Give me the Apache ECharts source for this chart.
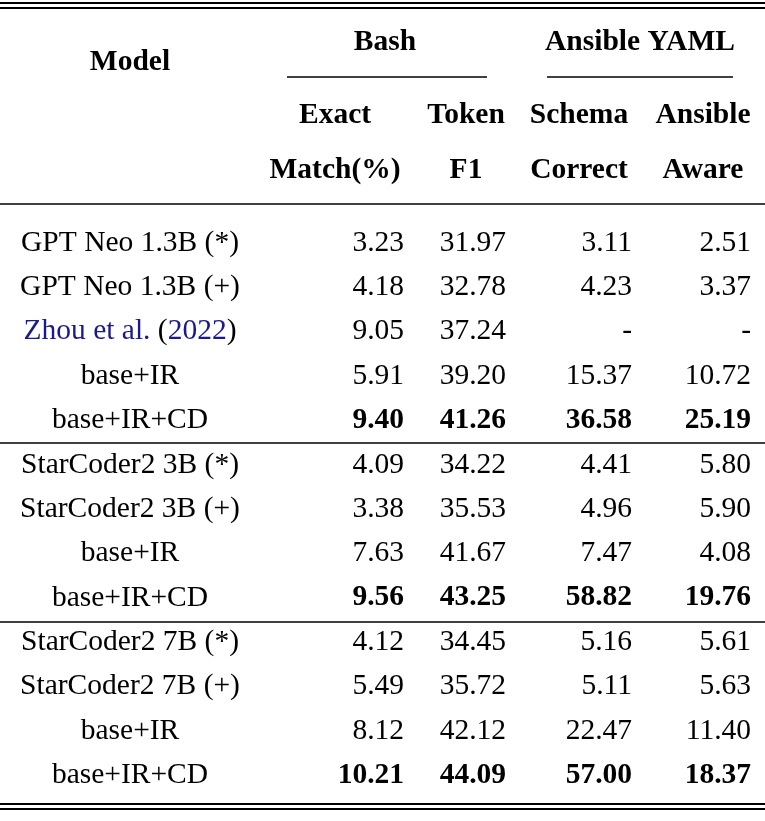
<!DOCTYPE html><html><head><meta charset="utf-8"><script src="https://cdn.jsdelivr.net/npm/echarts@6/dist/echarts.min.js"></script>
<style>html,body{margin:0;background:#fff}#c{width:765px;height:821px}</style></head><body><div id="c"></div><script>
const models=["GPT Neo 1.3B (*)","GPT Neo 1.3B (+)","{b|Zhou et al.} ({b|2022})","base+IR","base+IR+CD","StarCoder2 3B (*)","StarCoder2 3B (+)","base+IR","base+IR+CD","StarCoder2 7B (*)","StarCoder2 7B (+)","base+IR","base+IR+CD"];
const exactMatch=["3.23","4.18","9.05","5.91","9.40","4.09","3.38","7.63","9.56","4.12","5.49","8.12","10.21"];
const tokenF1=["31.97","32.78","37.24","39.20","41.26","34.22","35.53","41.67","43.25","34.45","35.72","42.12","44.09"];
const schemaCorrect=["3.11","4.23","-","15.37","36.58","4.41","4.96","7.47","58.82","5.16","5.11","22.47","57.00"];
const ansibleAware=["2.51","3.37","-","10.72","25.19","5.80","5.90","4.08","19.76","5.61","5.63","11.40","18.37"];
const boldRows=[4,8,12];
const headTop=["Exact","Token","Schema","Ansible"];
const headBot=["Match(%)","F1","Correct","Aware"];
// layout
const colX=[130,404,506,632,751];
const subX=[335,466,579,703];
const rowY0=243,rowStep=44.35;
const FS=29.5;
const F='"Liberation Serif","DejaVu Serif",serif';
const cells=[];
const cols=[exactMatch,tokenF1,schemaCorrect,ansibleAware];
models.forEach((m,r)=>{cells.push([0,r,m]);cols.forEach((a,c)=>cells.push([c+1,r,a[r]]));});
const heads=[];
heads.push([130,62,"Model"]);heads.push([385,42,"Bash"]);heads.push([640,42,"Ansible YAML"]);
headTop.forEach((t,i)=>heads.push([subX[i],115,t]));headBot.forEach((t,i)=>heads.push([subX[i],170,t]));
const lines=[[0,3,765,2],[0,8,765,2],[287,77,487,1.5],[547,77,733,1.5],[0,204,765,1.5],[0,443,765,1.5],[0,622,765,1.5],[0,804,765,2],[0,809,765,2]];
const ch=echarts.init(document.getElementById('c'));
ch.setOption({animation:false,grid:{left:0,right:0,top:0,bottom:0},
xAxis:{type:'value',min:0,max:765,show:false},yAxis:{type:'value',min:0,max:821,inverse:true,show:false},
series:[
{type:'custom',data:cells,renderItem:(p,api)=>{const c=api.value(0),r=api.value(1);const d=cells[p.dataIndex];
const pt=api.coord([colX[c],rowY0+r*rowStep]);const bold=c>0&&boldRows.includes(r);
return {type:'text',x:pt[0],y:pt[1],style:{text:d[2],font:(bold?'bold ':'')+FS+'px '+F,fill:'#000',align:c==0?'center':'right',verticalAlign:'middle',rich:{b:{fill:'#1a1a8c',font:FS+'px '+F}}}};}},
{type:'custom',data:heads,renderItem:(p,api)=>{const pt=api.coord([api.value(0),api.value(1)]);
return {type:'text',x:pt[0],y:pt[1],style:{text:heads[p.dataIndex][2],font:'bold '+FS+'px '+F,fill:'#000',align:'center',verticalAlign:'middle'}};}},
{type:'custom',data:lines,renderItem:(p,api)=>{const a=api.coord([api.value(0),api.value(1)]),b=api.coord([api.value(2),api.value(1)]);
return {type:'line',shape:{x1:a[0],y1:a[1],x2:b[0],y2:b[1]},style:{stroke:'#000',lineWidth:api.value(3)}};}}
]});
</script></body></html>
